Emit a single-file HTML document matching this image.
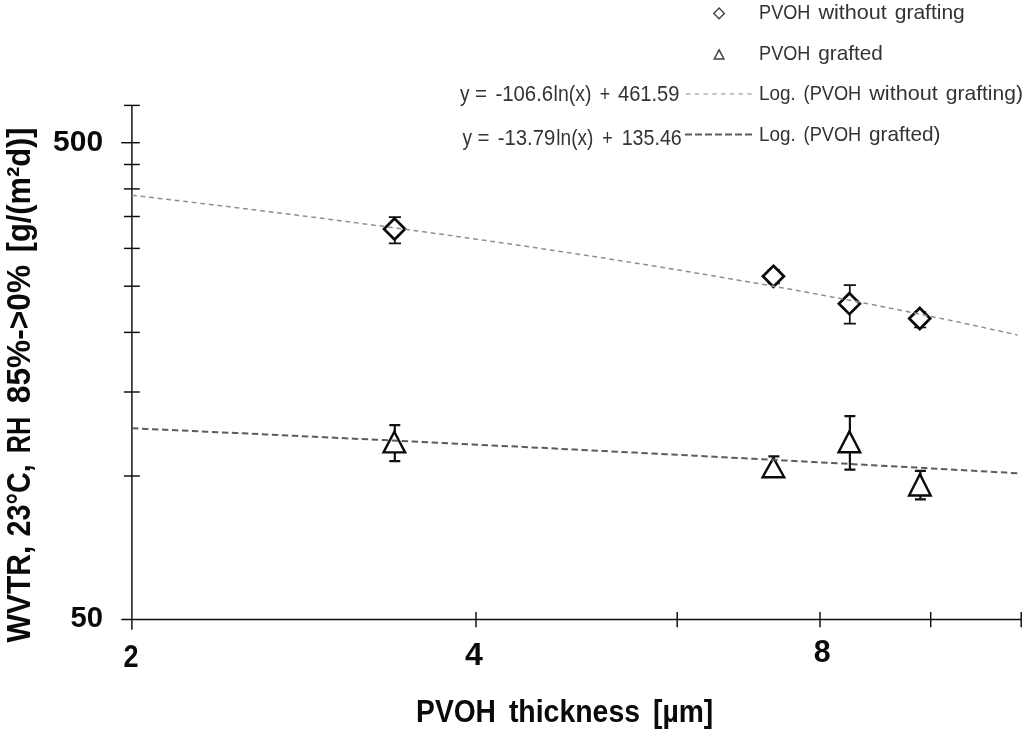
<!DOCTYPE html>
<html lang="en"><head><meta charset="utf-8"><title>WVTR vs PVOH thickness</title>
<style>html,body{margin:0;padding:0;background:#fff}svg{display:block}text{font-family:"Liberation Sans",sans-serif}.b{font-weight:bold;fill:#0a0a0a}.l{fill:#333}</style>
</head><body>
<svg width="1024" height="731" viewBox="0 0 1024 731">
<rect width="1024" height="731" fill="#fff"/>
<g stroke="#0d0d0d" stroke-width="1.45" fill="none">
<line x1="131.9" y1="105.4" x2="131.9" y2="629.7"/>
<line x1="121.3" y1="619.5" x2="1021" y2="619.5"/>
<line x1="123.9" y1="105.4" x2="139.8" y2="105.4"/>
<line x1="121.2" y1="142.7" x2="139.8" y2="142.7"/>
<line x1="123.9" y1="164.5" x2="139.8" y2="164.5"/>
<line x1="123.9" y1="188.9" x2="139.8" y2="188.9"/>
<line x1="123.9" y1="216.5" x2="139.8" y2="216.5"/>
<line x1="123.9" y1="248.4" x2="139.8" y2="248.4"/>
<line x1="123.9" y1="286.2" x2="139.8" y2="286.2"/>
<line x1="123.9" y1="332.4" x2="139.8" y2="332.4"/>
<line x1="123.9" y1="392.0" x2="139.8" y2="392.0"/>
<line x1="123.9" y1="476.0" x2="139.8" y2="476.0"/>
<line x1="476.0" y1="611.9" x2="476.0" y2="627.2"/>
<line x1="677.2" y1="611.9" x2="677.2" y2="627.2"/>
<line x1="820.0" y1="611.9" x2="820.0" y2="627.2"/>
<line x1="930.7" y1="611.9" x2="930.7" y2="627.2"/>
<line x1="1021.2" y1="611.9" x2="1021.2" y2="627.2"/>
</g>
<path d="M394.9,217.2V243.3M388.8,217.2H401.0M388.8,243.3H401.0" stroke="#111" stroke-width="1.7" fill="none"/>
<path d="M394.5,218.5L405.0,229.0L394.5,239.5L384.0,229.0Z" fill="#fff" stroke="#0a0a0a" stroke-width="2.7" stroke-linejoin="miter"/>
<path d="M773.8,269.8V283.4M767.7,269.8H779.9M767.7,283.4H779.9" stroke="#111" stroke-width="1.7" fill="none"/>
<path d="M773.4,265.8L783.9,276.3L773.4,286.8L762.9,276.3Z" fill="#fff" stroke="#0a0a0a" stroke-width="2.7" stroke-linejoin="miter"/>
<path d="M849.8,285.2V323.7M843.7,285.2H855.9M843.7,323.7H855.9" stroke="#111" stroke-width="1.7" fill="none"/>
<path d="M849.4,293.2L859.9,303.7L849.4,314.2L838.9,303.7Z" fill="#fff" stroke="#0a0a0a" stroke-width="2.7" stroke-linejoin="miter"/>
<path d="M920.1,312.2V327.5M914.0,312.2H926.2M914.0,327.5H926.2" stroke="#111" stroke-width="1.7" fill="none"/>
<path d="M919.8,308.0L930.2,318.5L919.8,329.0L909.2,318.5Z" fill="#fff" stroke="#0a0a0a" stroke-width="2.7" stroke-linejoin="miter"/>
<path d="M394.8,425.1V461.2M389.3,425.1H400.3M389.3,461.2H400.3" stroke="#111" stroke-width="2.2" fill="none"/>
<path d="M394.3,431.8L405.1,452.4H383.5Z" fill="#fff" stroke="#0a0a0a" stroke-width="2.4" stroke-linejoin="miter"/>
<path d="M773.9,456.3V476.0M768.4,456.3H779.4M768.4,476.0H779.4" stroke="#111" stroke-width="2.2" fill="none"/>
<path d="M773.4,457.9L784.2,477.2H762.6Z" fill="#fff" stroke="#0a0a0a" stroke-width="2.4" stroke-linejoin="miter"/>
<path d="M849.9,416.2V469.7M844.4,416.2H855.4M844.4,469.7H855.4" stroke="#111" stroke-width="2.2" fill="none"/>
<path d="M849.4,431.4L860.2,452.3H838.6Z" fill="#fff" stroke="#0a0a0a" stroke-width="2.4" stroke-linejoin="miter"/>
<path d="M920.4,470.9V499.4M914.9,470.9H925.9M914.9,499.4H925.9" stroke="#111" stroke-width="2.2" fill="none"/>
<path d="M919.9,474.1L930.7,495.5H909.1Z" fill="#fff" stroke="#0a0a0a" stroke-width="2.4" stroke-linejoin="miter"/>
<path d="M132.0,195.3 L146.8,197.0 L161.5,198.7 L176.3,200.5 L191.0,202.2 L205.8,204.0 L220.6,205.7 L235.3,207.5 L250.1,209.3 L264.8,211.2 L279.6,213.0 L294.3,214.8 L309.1,216.7 L323.9,218.6 L338.6,220.5 L353.4,222.4 L368.1,224.4 L382.9,226.3 L397.6,228.3 L412.4,230.3 L427.2,232.3 L441.9,234.3 L456.7,236.4 L471.4,238.5 L486.2,240.6 L501.0,242.7 L515.7,244.8 L530.5,247.0 L545.2,249.2 L560.0,251.4 L574.8,253.6 L589.5,255.9 L604.3,258.1 L619.0,260.5 L633.8,262.8 L648.5,265.1 L663.3,267.5 L678.1,269.9 L692.8,272.4 L707.6,274.9 L722.3,277.4 L737.1,279.9 L751.9,282.5 L766.6,285.0 L781.4,287.7 L796.1,290.3 L810.9,293.0 L825.6,295.8 L840.4,298.5 L855.2,301.3 L869.9,304.2 L884.7,307.1 L899.4,310.0 L914.2,313.0 L929.0,316.0 L943.7,319.0 L958.5,322.1 L973.2,325.3 L988.0,328.5 L1002.7,331.7 L1017.5,335.0" fill="none" stroke="#8f8f8f" stroke-width="1.5" stroke-dasharray="4.8 3.8"/>
<path d="M132.0,428.3 L146.8,428.9 L161.6,429.6 L176.4,430.3 L191.2,431.0 L206.0,431.7 L220.8,432.4 L235.7,433.0 L250.5,433.7 L265.3,434.4 L280.1,435.1 L294.9,435.8 L309.7,436.5 L324.5,437.2 L339.3,438.0 L354.1,438.7 L368.9,439.4 L383.7,440.1 L398.6,440.8 L413.4,441.5 L428.2,442.3 L443.0,443.0 L457.8,443.7 L472.6,444.4 L487.4,445.2 L502.2,445.9 L517.0,446.6 L531.8,447.4 L546.6,448.1 L561.4,448.9 L576.2,449.6 L591.1,450.4 L605.9,451.1 L620.7,451.9 L635.5,452.6 L650.3,453.4 L665.1,454.2 L679.9,454.9 L694.7,455.7 L709.5,456.5 L724.3,457.3 L739.1,458.0 L754.0,458.8 L768.8,459.6 L783.6,460.4 L798.4,461.2 L813.2,462.0 L828.0,462.8 L842.8,463.6 L857.6,464.4 L872.4,465.2 L887.2,466.0 L902.0,466.8 L916.8,467.6 L931.6,468.5 L946.5,469.3 L961.3,470.1 L976.1,470.9 L990.9,471.8 L1005.7,472.6 L1020.5,473.5" fill="none" stroke="#5c5c5c" stroke-width="2.0" stroke-dasharray="6.4 3.6"/>
<path d="M719.1,8.1L724.4,13.4L719.1,18.7L713.8,13.4Z" fill="none" stroke="#444" stroke-width="1.4"/>
<path d="M719.1,49.8L723.9,59H714.3Z" fill="none" stroke="#444" stroke-width="1.5"/>
<line x1="686" y1="94" x2="752.3" y2="94" stroke="#8c8c8c" stroke-width="1.15" stroke-dasharray="4.5 4.25"/>
<line x1="685" y1="134.6" x2="752.3" y2="134.6" stroke="#5c5c5c" stroke-width="2" stroke-dasharray="7 3"/>
<text y="19" font-size="20.4" class="l"><tspan x="759.10" textLength="51.28" lengthAdjust="spacingAndGlyphs">PVOH</tspan> <tspan x="818.41" textLength="68.46" lengthAdjust="spacingAndGlyphs">without</tspan> <tspan x="894.70" textLength="70.11" lengthAdjust="spacingAndGlyphs">grafting</tspan></text>
<text y="59.7" font-size="20.4" class="l"><tspan x="759.10" textLength="51.28" lengthAdjust="spacingAndGlyphs">PVOH</tspan> <tspan x="818.30" textLength="64.57" lengthAdjust="spacingAndGlyphs">grafted</tspan></text>
<text y="100" font-size="20.4" class="l"><tspan x="759.10" textLength="36.73" lengthAdjust="spacingAndGlyphs">Log.</tspan> <tspan x="803.60" textLength="57.64" lengthAdjust="spacingAndGlyphs">(PVOH</tspan> <tspan x="869.21" textLength="68.66" lengthAdjust="spacingAndGlyphs">without</tspan> <tspan x="945.70" textLength="77.27" lengthAdjust="spacingAndGlyphs">grafting)</tspan></text>
<text y="141.2" font-size="20.4" class="l"><tspan x="759.10" textLength="36.73" lengthAdjust="spacingAndGlyphs">Log.</tspan> <tspan x="803.60" textLength="57.64" lengthAdjust="spacingAndGlyphs">(PVOH</tspan> <tspan x="869.10" textLength="71.43" lengthAdjust="spacingAndGlyphs">grafted)</tspan></text>
<text y="101" font-size="21.8" class="l"><tspan x="460.00" textLength="9.50" lengthAdjust="spacingAndGlyphs">y</tspan> <tspan x="475.00" textLength="11.98" lengthAdjust="spacingAndGlyphs">=</tspan> <tspan x="495.40" textLength="57.81" lengthAdjust="spacingAndGlyphs">-106.6</tspan><tspan x="553.60" textLength="37.79" lengthAdjust="spacingAndGlyphs">ln(x)</tspan> <tspan x="599.80" textLength="10.38" lengthAdjust="spacingAndGlyphs">+</tspan> <tspan x="618.00" textLength="61.47" lengthAdjust="spacingAndGlyphs">461.59</tspan></text>
<text y="144.6" font-size="21.8" class="l"><tspan x="462.50" textLength="9.50" lengthAdjust="spacingAndGlyphs">y</tspan> <tspan x="477.50" textLength="11.98" lengthAdjust="spacingAndGlyphs">=</tspan> <tspan x="497.70" textLength="57.71" lengthAdjust="spacingAndGlyphs">-13.79</tspan><tspan x="556.30" textLength="37.09" lengthAdjust="spacingAndGlyphs">ln(x)</tspan> <tspan x="602.30" textLength="10.38" lengthAdjust="spacingAndGlyphs">+</tspan> <tspan x="621.70" textLength="60.07" lengthAdjust="spacingAndGlyphs">135.46</tspan></text>
<text y="150.8" font-size="29.5" class="b"><tspan x="53.10" textLength="49.96" lengthAdjust="spacingAndGlyphs">500</tspan></text>
<text y="627.3" font-size="29.5" class="b"><tspan x="70.60" textLength="32.57" lengthAdjust="spacingAndGlyphs">50</tspan></text>
<text y="667.2" font-size="30.6" class="b"><tspan x="123.50" textLength="15.03" lengthAdjust="spacingAndGlyphs">2</tspan></text>
<text y="664.8" font-size="30.6" class="b"><tspan x="465.00" textLength="17.84" lengthAdjust="spacingAndGlyphs">4</tspan></text>
<text y="662.4" font-size="30.6" class="b"><tspan x="813.75" textLength="16.89" lengthAdjust="spacingAndGlyphs">8</tspan></text>
<text y="721.8" font-size="31.7" class="b"><tspan x="416.10" textLength="79.87" lengthAdjust="spacingAndGlyphs">PVOH</tspan> <tspan x="508.90" textLength="131.16" lengthAdjust="spacingAndGlyphs">thickness</tspan> <tspan x="653.00" textLength="60.24" lengthAdjust="spacingAndGlyphs">[µm]</tspan></text>
<text y="0" font-size="32.3" class="b" transform="translate(29.5,642.6) rotate(-90)"><tspan x="0.00" textLength="97.05" lengthAdjust="spacingAndGlyphs">WVTR,</tspan> <tspan x="106.10" textLength="72.27" lengthAdjust="spacingAndGlyphs">23°C,</tspan> <tspan x="189.30" textLength="36.48" lengthAdjust="spacingAndGlyphs">RH</tspan> <tspan x="239.40" textLength="138.26" lengthAdjust="spacingAndGlyphs">85%-&gt;0%</tspan> <tspan x="390.40" textLength="124.67" lengthAdjust="spacingAndGlyphs">[g/(m²d)]</tspan></text>
</svg></body></html>
